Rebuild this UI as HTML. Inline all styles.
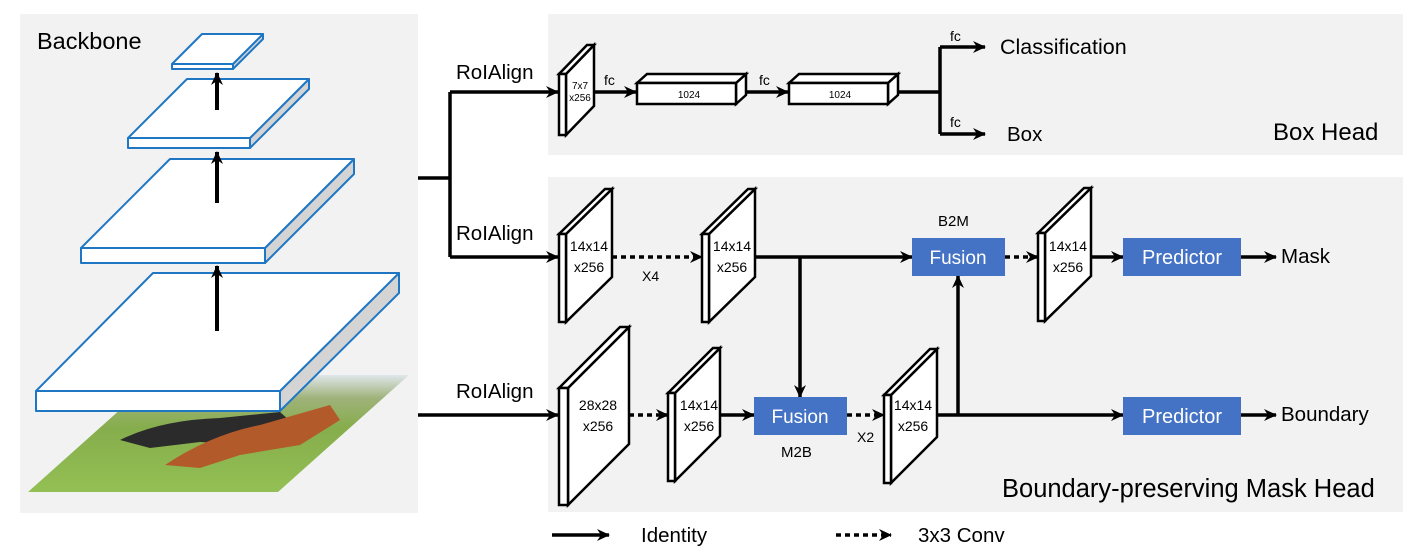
<!DOCTYPE html>
<html><head><meta charset="utf-8"><style>
html,body{margin:0;padding:0;background:#fff;width:1420px;height:553px;overflow:hidden}
text{font-family:"Liberation Sans","DejaVu Sans",sans-serif}
</style></head><body>
<svg width="1420" height="553" viewBox="0 0 1420 553" xmlns="http://www.w3.org/2000/svg">
<defs>
<marker id="ah" markerWidth="13" markerHeight="12" refX="12" refY="6" orient="auto" markerUnits="userSpaceOnUse">
<path d="M0,0 L13,6 L0,12 L4,6 Z" fill="#000"/></marker>
<linearGradient id="grass" x1="0" y1="0" x2="0" y2="1">
<stop offset="0" stop-color="#dfe6ea"/><stop offset="0.2" stop-color="#9fb27a"/><stop offset="0.45" stop-color="#86ad4c"/><stop offset="1" stop-color="#93c054"/></linearGradient>
</defs>
<rect x="20" y="14" width="398" height="499" fill="#f2f2f2"/>
<rect x="548" y="14" width="855" height="141" fill="#f2f2f2"/>
<rect x="548" y="177" width="855" height="335" fill="#f2f2f2"/>

<polygon points="28,492 278,492 409,375 159,375" fill="url(#grass)"/>
<path d="M120,440 Q160,420 220,418 L280,412 L300,430 L260,445 L200,442 L150,448 Z" fill="#2b2b2b"/>
<path d="M165,465 Q210,435 260,425 L330,405 L340,420 L300,445 L240,455 L200,468 Z" fill="#b35a2a"/>

<g stroke="#1f77c4" stroke-width="2" stroke-linejoin="round">
<polygon points="233,64 263,34 263,39 233,69" fill="#d4d4d4"/>
<polygon points="172,64 202,34 263,34 233,64" fill="#fff"/>
<rect x="172" y="64" width="61" height="5" fill="#fff"/>
<polygon points="250,138 309,79 309,89 250,148" fill="#d4d4d4"/>
<polygon points="128,138 187,79 309,79 250,138" fill="#fff"/>
<rect x="128" y="138" width="122" height="10" fill="#fff"/>
<polygon points="265,248 354,159 354,174 265,263" fill="#d4d4d4"/>
<polygon points="81,248 170,159 354,159 265,248" fill="#fff"/>
<rect x="81" y="248" width="184" height="15" fill="#fff"/>
<polygon points="280,391 399,273 399,293 280,411" fill="#d4d4d4"/>
<polygon points="36,391 153,273 399,273 280,391" fill="#fff"/>
<rect x="36" y="391" width="244" height="20" fill="#fff"/>
</g>
<g stroke="#000" stroke-width="4" marker-end="url(#ah)">
<line x1="217" y1="110" x2="217" y2="73"/>
<line x1="217" y1="203" x2="217" y2="152"/>
<line x1="217" y1="331" x2="217" y2="266"/>
</g>
<text x="37" y="49" font-size="23.5">Backbone</text>

<g stroke="#000" stroke-width="3.5" fill="none">
<polyline points="418,178 450,178"/>
<polyline points="450,92 450,257"/>
<line x1="450" y1="92" x2="558" y2="92" marker-end="url(#ah)"/>
<line x1="450" y1="257" x2="558" y2="257" marker-end="url(#ah)"/>
<line x1="418" y1="415" x2="558" y2="415" marker-end="url(#ah)"/>
<line x1="566" y1="92" x2="636" y2="92" marker-end="url(#ah)"/>
<line x1="746" y1="92" x2="788" y2="92" marker-end="url(#ah)"/>
<polyline points="898,92 940,92"/>
<polyline points="940,47 940,134"/>
<line x1="940" y1="47" x2="985" y2="47" marker-end="url(#ah)"/>
<line x1="940" y1="134" x2="985" y2="134" marker-end="url(#ah)"/>
<line x1="612" y1="257" x2="702" y2="257" stroke-dasharray="5,4" marker-end="url(#ah)"/>
<line x1="755" y1="257" x2="912" y2="257" marker-end="url(#ah)"/>
<line x1="800" y1="257" x2="800" y2="397" marker-end="url(#ah)"/>
<line x1="1005" y1="257" x2="1038" y2="257" stroke-dasharray="5,4" marker-end="url(#ah)"/>
<line x1="1091" y1="257" x2="1123" y2="257" marker-end="url(#ah)"/>
<line x1="1241" y1="257" x2="1276" y2="257" marker-end="url(#ah)"/>
<line x1="629" y1="415" x2="668" y2="415" stroke-dasharray="5,4" marker-end="url(#ah)"/>
<line x1="720" y1="415" x2="754" y2="415" marker-end="url(#ah)"/>
<line x1="847" y1="415" x2="884" y2="415" stroke-dasharray="5,4" marker-end="url(#ah)"/>
<line x1="937" y1="415" x2="1123" y2="415" marker-end="url(#ah)"/>
<line x1="958" y1="415" x2="958" y2="276" marker-end="url(#ah)"/>
<line x1="1241" y1="415" x2="1276" y2="415" marker-end="url(#ah)"/>
<line x1="552" y1="535" x2="609" y2="535" marker-end="url(#ah)"/>
<line x1="836" y1="535" x2="891" y2="535" stroke-dasharray="5,4" marker-end="url(#ah)"/>
</g>

<g stroke="#000" stroke-width="2.5" stroke-linejoin="miter" fill="#fff">
<polygon points="566,74 594,45 594,106 566,135"/>
<polygon points="559,74 587,45 594,45 566,74"/>
<rect x="559" y="74" width="7" height="61"/>
<polygon points="736,83 746,74 746,95 736,104"/>
<polygon points="637,83 647,74 746,74 736,83"/>
<rect x="637" y="83" width="99" height="21"/>
<polygon points="888,83 898,74 898,95 888,104"/>
<polygon points="789,83 799,74 898,74 888,83"/>
<rect x="789" y="83" width="99" height="21"/>
<polygon points="566,234 612,189 612,277 566,322"/>
<polygon points="559,234 605,189 612,189 566,234"/>
<rect x="559" y="234" width="7" height="88"/>
<polygon points="709,234 755,189 755,277 709,322"/>
<polygon points="702,234 748,189 755,189 709,234"/>
<rect x="702" y="234" width="7" height="88"/>
<polygon points="1045,233 1091,188 1091,276 1045,321"/>
<polygon points="1038,233 1084,188 1091,188 1045,233"/>
<rect x="1038" y="233" width="7" height="88"/>
<polygon points="568,388 629,327 629,444 568,505"/>
<polygon points="559,388 620,327 629,327 568,388"/>
<rect x="559" y="388" width="9" height="117"/>
<polygon points="675,393 720,348 720,436 675,481"/>
<polygon points="668,393 713,348 720,348 675,393"/>
<rect x="668" y="393" width="7" height="88"/>
<polygon points="891,395 937,349 937,437 891,483"/>
<polygon points="884,395 930,349 937,349 891,395"/>
<rect x="884" y="395" width="7" height="88"/>
</g>

<g fill="#4472c4">
<rect x="912" y="238" width="93" height="38"/>
<rect x="754" y="397" width="93" height="38"/>
<rect x="1123" y="238" width="118" height="38"/>
<rect x="1123" y="397" width="118" height="38"/>
</g>
<g fill="#fff" font-size="19" text-anchor="middle">
<text x="958" y="264">Fusion</text>
<text x="800" y="423">Fusion</text>
<text x="1182" y="264" font-size="20">Predictor</text>
<text x="1182" y="423" font-size="20">Predictor</text>
</g>

<g font-size="14" text-anchor="middle">
<text x="589" y="251">14x14</text><text x="589" y="272">x256</text>
<text x="732" y="251">14x14</text><text x="732" y="272">x256</text>
<text x="1068" y="251">14x14</text><text x="1068" y="272">x256</text>
<text x="598" y="410">28x28</text><text x="598" y="431">x256</text>
<text x="699" y="410">14x14</text><text x="699" y="431">x256</text>
<text x="913" y="410">14x14</text><text x="913" y="431">x256</text>
</g>
<g font-size="10" text-anchor="middle">
<text x="580" y="89">7x7</text><text x="580" y="101">x256</text>
<text x="689" y="98">1024</text><text x="840" y="98">1024</text>
</g>
<g font-size="14">
<text x="604" y="85">fc</text><text x="759" y="85">fc</text>
<text x="950" y="41">fc</text><text x="950" y="127">fc</text>
<text x="642" y="281">X4</text><text x="857" y="442">X2</text>
<text x="938" y="226" font-size="15">B2M</text><text x="781" y="457" font-size="15">M2B</text>
</g>
<g font-size="20.5">
<text x="456" y="79">RoIAlign</text>
<text x="456" y="240">RoIAlign</text>
<text x="456" y="398">RoIAlign</text>
<text x="1000" y="54" font-size="21.5">Classification</text>
<text x="1007" y="141">Box</text>
<text x="1281" y="263">Mask</text>
<text x="1281" y="421">Boundary</text>
<text x="641" y="542">Identity</text>
<text x="918" y="542">3x3 Conv</text>
</g>
<g font-size="24">
<text x="1273" y="140">Box Head</text>
<text x="1002" y="497" font-size="25.5">Boundary-preserving Mask Head</text>
</g>
</svg>
</body></html>
